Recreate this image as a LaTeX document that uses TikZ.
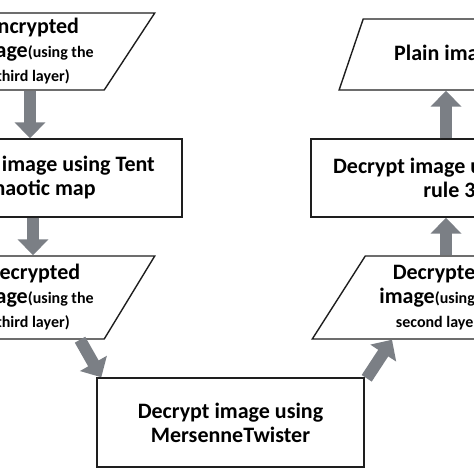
\documentclass[tikz,border=0pt]{standalone}
\usepackage{fontspec}
\setmainfont{Carlito}
\usepackage{tikz}
\usetikzlibrary{calc}
\usetikzlibrary{shapes.geometric,arrows.meta}
\definecolor{arrowgray}{HTML}{7B7F85}
\definecolor{edgegray}{HTML}{1E1E1E}
\newcommand{\bigtxt}{\fontsize{22}{24}\selectfont\bfseries}
\newcommand{\usingtxt}[1]{{\fontsize{16}{24}\selectfont #1}}

\begin{document}
\begin{tikzpicture}[x=1pt,y=-1pt,
    box/.style={draw=edgegray,line width=1.4pt,rectangle,align=center,font=\bigtxt},
    para/.style={draw=edgegray,line width=1.4pt,trapezium,trapezium left angle=58,
      trapezium right angle=122,trapezium stretches=true,align=center,font=\bigtxt},
    blockarrow/.style={line width=12pt,draw=arrowgray,-{Triangle[width=30pt,length=16pt]}}]
    \useasboundingbox (0,0) rectangle (474,474);
    \clip (0,0) rectangle (474,474);
    % left column, going down
    \node[para,minimum width=244,minimum height=77] (enc) at (33,51.5)
      {Encrypted\\image\usingtxt{(using the}\\\usingtxt{third layer)}};
    \node[box,minimum width=284,minimum height=78] (tent) at (40,178)
      {Decrypt image using Tent\\chaotic map};
    \node[para,minimum width=244,minimum height=83] (dec3) at (33,297.5)
      {Decrypted\\image\usingtxt{(using the}\\\usingtxt{third layer)}};
    \node[box,minimum width=267,minimum height=89] (mt) at (230.5,422.5)
      {Decrypt image using\\MersenneTwister};
    % right column, going up
    \node[para,minimum width=256,minimum height=83] (dec2) at (440,297.5)
      {Decrypted\\image\usingtxt{(using the}\\\usingtxt{second layer)}};
    \node[box,minimum width=270,minimum height=78] (rule) at (446,178)
      {Decrypt image using ECA\\\hspace*{18pt}rule 30};
    \node[para,minimum width=216,minimum height=71] (plain) at (447,54.5)
      {Plain image};
    \draw[blockarrow] ($(enc.center |- enc.south)+(-3,0)$) -- ($(enc.center |- tent.north)+(-3,0)$);
    \draw[blockarrow] (dec3.center |- tent.south) -- (dec3.center |- dec3.north);
    \draw[blockarrow] ($(dec3.center |- dec3.south)+(47,0)$) -- ($(mt.north west)+(5,0)$);
    \draw[blockarrow] ($(mt.north east)+(2,1)$) -- ($(dec2.center |- dec2.south)+(-48,0)$);
    \draw[blockarrow] (rule.south |- dec2.north) -- (rule.south);
    \draw[blockarrow] (rule.north) -- (rule.north |- plain.south);
  \end{tikzpicture}
\end{document}
